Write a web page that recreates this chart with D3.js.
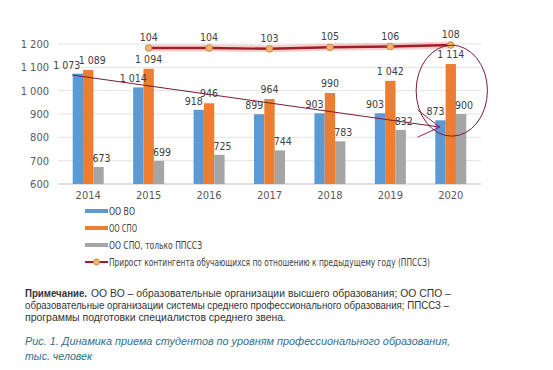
<!DOCTYPE html>
<html><head><meta charset="utf-8">
<script src="https://cdn.jsdelivr.net/npm/d3@7"></script>
<style>
html,body{margin:0;padding:0;background:#fff;}
svg{display:block;}
text{font-family:"Open Sans","DejaVu Sans",sans-serif;}
.ch text{font-family:"Liberation Sans Narrow","DejaVu Sans Condensed","Liberation Sans",sans-serif;}
.nt text{font-family:"Liberation Sans","DejaVu Sans",sans-serif;}
</style></head>
<body>
<svg id="c" width="553" height="370"></svg>
<script>
const years = ["2014","2015","2016","2017","2018","2019","2020"];
const ooVO = [1073,1014,918,899,903,903,873];
const ooSPO = [1089,1094,946,964,990,1042,1114];
const ooSPOppssz = [673,699,725,744,783,832,900];
const growthYears = ["2015","2016","2017","2018","2019","2020"];
const growth = [104,104,103,105,106,108];
const yTicks = [600,700,800,900,1000,1100,1200];
const seriesNames = ["ОО ВО","ОО СПО","ОО СПО, только ППССЗ"];
const lineName = "Прирост контингента обучающихся по отношению к предыдущему году (ППССЗ)";
const colors = ["#5b9bd5","#ed7d31","#a5a5a5"];

const svg = d3.select("#c");
const fmt = v => d3.format(",")(v).replace(/,/g, " ");

const x = d3.scaleBand().domain(years).range([58, 481]);
const xc = d => x(d) + x.bandwidth()/2;
const y = d3.scaleLinear().domain([600,1200]).range([184,44]);
const y2 = d3.scaleLinear().domain([100,110]).range([51,43.5]);
const x1 = d3.scaleBand().domain([0,1,2]).range([-15.5,15.5]);

// gridlines
svg.append("g").selectAll("line").data(yTicks).join("line")
  .attr("x1",58).attr("x2",481)
  .attr("y1",d=>y(d)).attr("y2",d=>y(d))
  .attr("stroke",d=>d===600?"#bfbfbf":"#e3e3e3").attr("stroke-width",1);

// y axis labels
svg.append("g").attr("class","ch").selectAll("text").data(yTicks).join("text")
  .attr("x",49).attr("y",d=>y(d)+4).attr("text-anchor","end")
  .attr("font-size",11).attr("fill","#595959").text(fmt);

// x labels
svg.append("g").attr("class","ch").selectAll("text").data(years).join("text")
  .attr("x",d=>xc(d)).attr("y",199).attr("text-anchor","middle")
  .attr("font-size",11).attr("fill","#595959").text(d=>d);

// bars
const series = [ooVO, ooSPO, ooSPOppssz];
series.forEach((vals,si)=>{
  svg.append("g").selectAll("rect").data(years).join("rect")
    .attr("x",(d)=>xc(d)+x1(si))
    .attr("width",x1.bandwidth())
    .attr("y",(d,i)=>y(vals[i]))
    .attr("height",(d,i)=>y(600)-y(vals[i]))
    .attr("fill",colors[si]);
});

// bar labels (first group nudged apart, as in the original)
const lblOff = [[-5,-5],[0,-6],[3,-5]];
const firstNudge = [-6,4,0];
series.forEach((vals,si)=>{
  svg.append("g").attr("class","ch").selectAll("text").data(years).join("text")
    .attr("x",(d,i)=>xc(d)+x1(si)+x1.bandwidth()/2+lblOff[si][0]+(i===0?firstNudge[si]:0))
    .attr("y",(d,i)=>y(vals[i])+lblOff[si][1])
    .attr("text-anchor","middle").attr("font-size",10.5).attr("fill","#404040")
    .text((d,i)=>fmt(vals[i]));
});

// growth line
const lineGen = d3.line().x((d,i)=>xc(growthYears[i])).y(d=>y2(d));
svg.append("path").datum(growth).attr("d",lineGen)
  .attr("fill","none").attr("stroke","rgba(235,120,120,0.35)").attr("stroke-width",7);
svg.append("path").datum(growth).attr("d",lineGen)
  .attr("fill","none").attr("stroke","#a01e24").attr("stroke-width",2.4);
svg.append("g").selectAll("circle").data(growth).join("circle")
  .attr("cx",(d,i)=>xc(growthYears[i])).attr("cy",d=>y2(d)).attr("r",3.3)
  .attr("fill","#f3b66e").attr("stroke","#c98a45").attr("stroke-width",1);
svg.append("g").attr("class","ch").selectAll("text").data(growth).join("text")
  .attr("x",(d,i)=>xc(growthYears[i])).attr("y",d=>y2(d)-7)
  .attr("text-anchor","middle").attr("font-size",10.5).attr("fill","#404040").text(d=>d);

// hand-drawn annotations
const ann = "#7a1b3a";
const ax0 = xc("2014")-16, ay0 = y(1067), ax1 = xc("2020")-11, ay1 = y(844);
svg.append("line").attr("x1",ax0).attr("y1",ay0).attr("x2",ax1).attr("y2",ay1)
  .attr("stroke",ann).attr("stroke-width",1);
svg.append("path").attr("d",`M${ax1-22},${ay1-17}L${ax1},${ay1}L${ax1-22},${ay1+10}`)
  .attr("fill","none").attr("stroke","#9b2350").attr("stroke-width",1);
svg.append("ellipse").attr("cx",xc("2020")+1).attr("cy",y(1000))
  .attr("rx",x.bandwidth()*0.59).attr("ry",(y(805)-y(1195))/2)
  .attr("fill","none").attr("stroke",ann).attr("stroke-width",1);

// legend
const legY = [211,228,245,262];
const legW = [26,28,93,321];
const legNames = seriesNames.concat([lineName]);
const leg = svg.append("g").attr("class","ch");
legNames.forEach((n,i)=>{
  const g = leg.append("g");
  if(i<3){
    g.append("rect").attr("x",85).attr("y",legY[i]-2).attr("width",23).attr("height",4).attr("fill",colors[i]);
  } else {
    g.append("line").attr("x1",85).attr("x2",108).attr("y1",legY[i]).attr("y2",legY[i])
      .attr("stroke","#a01e24").attr("stroke-width",2);
    g.append("circle").attr("cx",96.5).attr("cy",legY[i]).attr("r",3)
      .attr("fill","#f3b66e").attr("stroke","#c98a45");
  }
  g.append("text").attr("x",109).attr("y",legY[i]+3.5).attr("font-size",10.5)
    .attr("fill","#404040").attr("textLength",legW[i]).attr("lengthAdjust","spacingAndGlyphs").text(n);
});

// note
const note = svg.append("g").attr("class","nt").attr("fill","#333").attr("font-size",10.3);
note.append("text").attr("x",25).attr("y",297).attr("font-weight","bold")
  .attr("textLength",62).attr("lengthAdjust","spacingAndGlyphs").text("Примечание.");
note.append("text").attr("x",91).attr("y",297).attr("textLength",360).attr("lengthAdjust","spacing")
  .text("ОО ВО – образовательные организации высшего образования; ОО СПО –");
note.append("text").attr("x",25).attr("y",309.2).attr("textLength",424).attr("lengthAdjust","spacingAndGlyphs")
  .text("образовательные организации системы среднего профессионального образования; ППССЗ –");
note.append("text").attr("x",25).attr("y",321.4).attr("textLength",261).attr("lengthAdjust","spacingAndGlyphs")
  .text("программы подготовки специалистов среднего звена.");

// caption
const cap = svg.append("g").attr("class","nt").attr("fill","#2f6f8c").attr("font-size",11.8).attr("font-style","italic");
cap.append("text").attr("x",25).attr("y",345).attr("textLength",425).attr("lengthAdjust","spacingAndGlyphs")
  .text("Рис. 1. Динамика приема студентов по уровням профессионального образования,");
cap.append("text").attr("x",25).attr("y",360).attr("textLength",67).attr("lengthAdjust","spacingAndGlyphs")
  .text("тыс. человек");
</script>
</body></html>
